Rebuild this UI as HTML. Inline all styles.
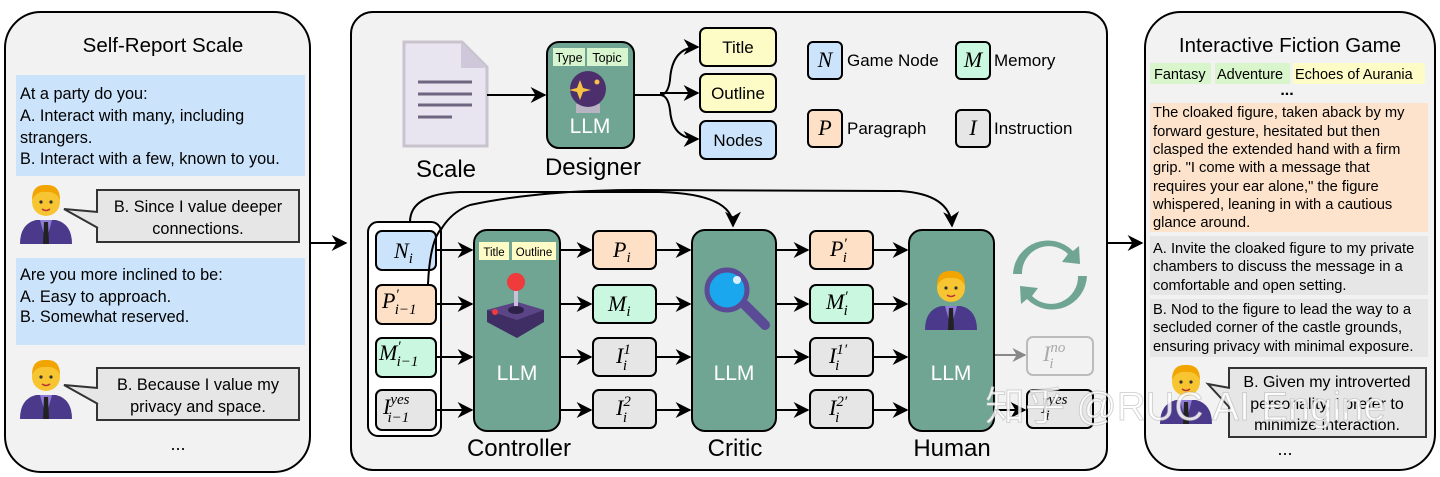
<!DOCTYPE html>
<html><head><meta charset="utf-8"><style>
html,body{margin:0;padding:0;background:#fff;}
svg{display:block;}
text{font-family:"Liberation Sans",sans-serif;}
.m{font-family:"Liberation Serif",serif;font-style:italic;}
</style></head><body>
<svg width="1440" height="477" viewBox="0 0 1440 477" xmlns="http://www.w3.org/2000/svg">
<defs>
<marker id="ahb" viewBox="0 0 10 10" refX="9" refY="5" markerWidth="16" markerHeight="16" orient="auto" markerUnits="userSpaceOnUse"><path d="M0,0 L10,5 L0,10 L3,5 z" fill="#000"/></marker>
<marker id="ahg" viewBox="0 0 10 10" refX="9" refY="5" markerWidth="14" markerHeight="14" orient="auto" markerUnits="userSpaceOnUse"><path d="M0,0 L10,5 L0,10 L3,5 z" fill="#888"/></marker>
<g id="person">
  <path d="M0,62 Q0,42 16,38 L36,38 Q52,42 52,62 Z" fill="#4b3a8c"/>
  <path d="M20,38 L26,60 L32,38 Z" fill="#8f7ad6"/>
  <path d="M24,40 L28,40 L29,62 L23,62 Z" fill="#222"/>
  <circle cx="26" cy="20" r="14" fill="#f7c531"/>
  <path d="M12,18 Q12,2 26,3 Q40,2 40,18 Q36,9 26,10 Q16,9 12,18 Z" fill="#f2a400"/>
  <circle cx="21" cy="20" r="1.6" fill="#333"/><circle cx="31" cy="20" r="1.6" fill="#333"/>
  <path d="M22,27 Q26,30 30,27" stroke="#b33" stroke-width="1.5" fill="none"/>
</g>
</defs>

<!-- LEFT PANEL -->
<rect x="5" y="12" width="305" height="460" rx="36" fill="#f2f2f2" stroke="#000" stroke-width="2"/>
<text x="163" y="52" font-size="20.5" text-anchor="middle">Self-Report Scale</text>
<rect x="16" y="75" width="289" height="101" fill="#cce4fb"/>
<g font-size="16.3">
<text x="20" y="99">At a party do you:</text>
<text x="20" y="121">A. Interact with many, including</text>
<text x="20" y="143">strangers.</text>
<text x="20" y="164">B. Interact with a few, known to you.</text>
</g>
<use href="#person" x="20" y="182"/>
<rect x="97" y="190" width="202" height="52" fill="#e6e6e6" stroke="#333" stroke-width="2"/>
<path d="M98,212 L64,209 L98,228" fill="#e6e6e6" stroke="#333" stroke-width="2"/>
<g font-size="16.3" text-anchor="middle"><text x="198" y="212">B. Since I value deeper</text><text x="198" y="234">connections.</text></g>
<rect x="16" y="258" width="289" height="87" fill="#cce4fb"/>
<g font-size="16.3">
<text x="20" y="280">Are you more inclined to be:</text>
<text x="20" y="302">A. Easy to approach.</text>
<text x="20" y="322">B. Somewhat reserved.</text>
</g>
<use href="#person" x="20" y="357"/>
<rect x="97" y="368" width="202" height="52" fill="#e6e6e6" stroke="#333" stroke-width="2"/>
<path d="M98,388 L64,385 L98,404" fill="#e6e6e6" stroke="#333" stroke-width="2"/>
<g font-size="16.3" text-anchor="middle"><text x="198" y="390">B. Because I value my</text><text x="198" y="412">privacy and space.</text></g>
<text x="178" y="450" font-size="18" text-anchor="middle">...</text>

<line x1="310" y1="243" x2="346" y2="243" stroke="#000" stroke-width="2" marker-end="url(#ahb)"/>

<!-- MIDDLE PANEL -->
<rect x="351" y="12" width="756" height="458" rx="22" fill="#f2f2f2" stroke="#000" stroke-width="2"/>
<path d="M404,42 L462,42 L487,67 L487,146 L404,146 Z" fill="#e8e4f0" stroke="#c8c3cf" stroke-width="3"/>
<path d="M461,42 L461,68 L487,68" fill="#cfc8da"/>
<g stroke="#6e6680" stroke-width="3"><line x1="418" y1="82" x2="472" y2="82"/><line x1="418" y1="94" x2="472" y2="94"/><line x1="418" y1="105" x2="472" y2="105"/><line x1="418" y1="117" x2="452" y2="117"/></g>
<text x="446" y="177" font-size="24" text-anchor="middle">Scale</text>
<line x1="487" y1="95" x2="545" y2="95" stroke="#000" stroke-width="2" marker-end="url(#ahb)"/>
<rect x="547" y="42" width="87" height="106" rx="12" fill="#6fa592" stroke="#000" stroke-width="2"/>
<rect x="553" y="48" width="32" height="18" fill="#d7f5cf"/><rect x="587" y="48" width="41" height="18" fill="#d7f5cf"/>
<text x="569" y="62" font-size="12.5" text-anchor="middle">Type</text><text x="607" y="62" font-size="12.5" text-anchor="middle">Topic</text>
<rect x="576" y="104" width="24" height="9" fill="#b9b4c4"/>
<circle cx="588" cy="89" r="18" fill="#4d2f6e"/>
<path d="M580,80 L583,88 L591,90 L583,92 L580,100 L577,92 L569,90 L577,88 Z" fill="#f6c343"/>
<circle cx="597" cy="82" r="2.5" fill="#f6c343"/>
<text x="590" y="133" font-size="21" fill="#fff" text-anchor="middle">LLM</text>
<text x="593" y="175" font-size="24" text-anchor="middle">Designer</text>
<g stroke="#000" stroke-width="2" fill="none">
<path d="M634,95 L660,95 Q668,95 670,80 Q672,47 698,47" marker-end="url(#ahb)"/>
<line x1="660" y1="93" x2="698" y2="93" marker-end="url(#ahb)"/>
<path d="M660,95 Q668,95 670,110 Q672,139 698,139" marker-end="url(#ahb)"/>
</g>
<g stroke="#000" stroke-width="2">
<rect x="700" y="28" width="76" height="38" rx="6" fill="#fdfbc6"/>
<rect x="700" y="74" width="76" height="38" rx="6" fill="#fdfbc6"/>
<rect x="700" y="121" width="76" height="38" rx="6" fill="#cce4fb"/>
</g>
<g font-size="17" text-anchor="middle"><text x="738" y="53">Title</text><text x="738" y="99">Outline</text><text x="738" y="146">Nodes</text></g>
<g stroke="#000" stroke-width="2">
<rect x="808" y="42" width="34" height="37" rx="5" fill="#cce4fb"/>
<rect x="956" y="42" width="34" height="37" rx="5" fill="#c9f7e0"/>
<rect x="808" y="110" width="34" height="37" rx="5" fill="#fde0c6"/>
<rect x="956" y="110" width="34" height="37" rx="5" fill="#e6e6e6"/>
</g>
<g font-size="22" text-anchor="middle"><text x="825" y="67" class="m">N</text><text x="973" y="67" class="m">M</text><text x="825" y="135" class="m">P</text><text x="973" y="135" class="m">I</text></g>
<g font-size="17"><text x="847" y="66">Game Node</text><text x="994" y="66">Memory</text><text x="847" y="134">Paragraph</text><text x="994" y="134">Instruction</text></g>

<g stroke="#000" stroke-width="2" fill="none">
<path d="M410,222 Q410,194 460,192 L660,192 Q733,194 733,226" marker-end="url(#ahb)"/>
<path d="M428,284 Q430,220 470,205 Q540,190 640,190 L900,191 Q950,194 952,226" marker-end="url(#ahb)"/>
</g>

<rect x="368" y="222" width="73" height="214" rx="10" fill="#fff" stroke="#000" stroke-width="2"/>
<g stroke="#000" stroke-width="2">
<rect x="376" y="231" width="60" height="39" rx="6" fill="#cce4fb"/>
<rect x="376" y="285" width="60" height="39" rx="6" fill="#fde0c6"/>
<rect x="376" y="338" width="60" height="39" rx="6" fill="#c9f7e0"/>
<rect x="376" y="390" width="60" height="40" rx="6" fill="#e6e6e6"/>
</g>
<path d="M428,284 Q430,240 442,228" stroke="#000" stroke-width="2" fill="none"/>
<g font-size="22">
<text x="394" y="258" class="m">N<tspan font-size="15" dy="5">i</tspan></text>
<text x="382" y="308" class="m">P<tspan font-size="15" dy="-9">′</tspan><tspan font-size="15" dx="-4" dy="15">i−1</tspan></text>
<text x="379" y="360" class="m">M<tspan font-size="15" dy="-9">′</tspan><tspan font-size="15" dx="-4" dy="15">i−1</tspan></text>
<text x="383" y="414" class="m">I<tspan font-size="15" dy="-10">yes</tspan><tspan font-size="15" dx="-22" dy="18">i−1</tspan></text>
</g>
<g stroke="#000" stroke-width="2" marker-end="url(#ahb)">
<line x1="436" y1="250" x2="472" y2="250"/><line x1="436" y1="304" x2="472" y2="304"/><line x1="436" y1="357" x2="472" y2="357"/><line x1="436" y1="410" x2="472" y2="410"/>
<line x1="560" y1="250" x2="591" y2="250"/><line x1="560" y1="304" x2="591" y2="304"/><line x1="560" y1="357" x2="591" y2="357"/><line x1="560" y1="410" x2="591" y2="410"/>
<line x1="656" y1="250" x2="690" y2="250"/><line x1="656" y1="304" x2="690" y2="304"/><line x1="656" y1="357" x2="690" y2="357"/><line x1="656" y1="410" x2="690" y2="410"/>
<line x1="776" y1="250" x2="808" y2="250"/><line x1="776" y1="304" x2="808" y2="304"/><line x1="776" y1="357" x2="808" y2="357"/><line x1="776" y1="410" x2="808" y2="410"/>
<line x1="873" y1="250" x2="907" y2="250"/><line x1="873" y1="304" x2="907" y2="304"/><line x1="873" y1="357" x2="907" y2="357"/><line x1="873" y1="410" x2="907" y2="410"/>
<line x1="994" y1="410" x2="1025" y2="410"/>
</g>
<line x1="994" y1="355" x2="1025" y2="355" stroke="#888" stroke-width="2" marker-end="url(#ahg)"/>
<rect x="474" y="230" width="86" height="201" rx="13" fill="#6fa592" stroke="#000" stroke-width="2"/>
<rect x="479" y="242" width="30" height="18" fill="#fdfbc6"/><rect x="512" y="242" width="44" height="18" fill="#fdfbc6"/>
<text x="494" y="256" font-size="11.5" text-anchor="middle">Title</text><text x="534" y="256" font-size="11.5" text-anchor="middle">Outline</text>
<path d="M487,310 L517,302 L544,310 L544,322 L517,338 L487,322 Z" fill="#3f2e63"/>
<path d="M487,310 L517,302 L544,310 L517,320 Z" fill="#5b4587"/>
<rect x="514" y="290" width="4" height="18" fill="#c9c0dc"/>
<circle cx="516" cy="282" r="9" fill="#ef3b3b"/>
<ellipse cx="516" cy="310" rx="8" ry="4" fill="#2e2148"/>
<circle cx="495" cy="312" r="3" fill="#ef3b3b"/>
<text x="517" y="380" font-size="21" fill="#fff" text-anchor="middle">LLM</text>
<text x="519" y="456" font-size="24" text-anchor="middle">Controller</text>
<g stroke="#000" stroke-width="2">
<rect x="593" y="231" width="63" height="38" rx="6" fill="#fde0c6"/>
<rect x="593" y="285" width="63" height="38" rx="6" fill="#c9f7e0"/>
<rect x="593" y="338" width="63" height="38" rx="6" fill="#e6e6e6"/>
<rect x="593" y="390" width="63" height="38" rx="6" fill="#e6e6e6"/>
</g>
<g font-size="22">
<text x="613" y="257" class="m">P<tspan font-size="15" dy="5">i</tspan></text>
<text x="608" y="311" class="m">M<tspan font-size="15" dy="5">i</tspan></text>
<text x="616" y="363" class="m">I<tspan font-size="15" dy="-9">1</tspan><tspan font-size="15" dx="-8" dy="16">i</tspan></text>
<text x="616" y="415" class="m">I<tspan font-size="15" dy="-9">2</tspan><tspan font-size="15" dx="-8" dy="16">i</tspan></text>
</g>
<rect x="692" y="230" width="84" height="201" rx="13" fill="#6fa592" stroke="#000" stroke-width="2"/>
<line x1="745" y1="305" x2="765" y2="325" stroke="#5b4a96" stroke-width="10" stroke-linecap="round"/>
<circle cx="727" cy="290" r="20" fill="#1aa7ee" stroke="#5b4a96" stroke-width="5"/>
<circle cx="737" cy="280" r="4" fill="#d8f1ff"/>
<text x="734" y="380" font-size="21" fill="#fff" text-anchor="middle">LLM</text>
<text x="735" y="456" font-size="24" text-anchor="middle">Critic</text>
<g stroke="#000" stroke-width="2">
<rect x="810" y="231" width="63" height="38" rx="6" fill="#fde0c6"/>
<rect x="810" y="285" width="63" height="38" rx="6" fill="#c9f7e0"/>
<rect x="810" y="338" width="63" height="38" rx="6" fill="#e6e6e6"/>
<rect x="810" y="390" width="63" height="38" rx="6" fill="#e6e6e6"/>
</g>
<g font-size="22">
<text x="830" y="256" class="m">P<tspan font-size="15" dy="-8">′</tspan><tspan font-size="15" dx="-4" dy="14">i</tspan></text>
<text x="826" y="309" class="m">M<tspan font-size="15" dy="-8">′</tspan><tspan font-size="15" dx="-4" dy="14">i</tspan></text>
<text x="829" y="363" class="m">I<tspan font-size="15" dy="-9">1′</tspan><tspan font-size="15" dx="-12" dy="16">i</tspan></text>
<text x="829" y="415" class="m">I<tspan font-size="15" dy="-9">2′</tspan><tspan font-size="15" dx="-12" dy="16">i</tspan></text>
</g>
<rect x="909" y="230" width="85" height="201" rx="13" fill="#6fa592" stroke="#000" stroke-width="2"/>
<use href="#person" x="925" y="268"/>
<text x="951" y="380" font-size="21" fill="#fff" text-anchor="middle">LLM</text>
<text x="952" y="456" font-size="24" text-anchor="middle">Human</text>
<rect x="1027" y="337" width="66" height="38" rx="6" fill="#f2f2f2" stroke="#bbb" stroke-width="2"/>
<text x="1043" y="361" font-size="22" class="m" fill="#aaa">I<tspan font-size="15" dy="-9">no</tspan><tspan font-size="15" dx="-16" dy="16">i</tspan></text>
<rect x="1027" y="390" width="66" height="38" rx="6" fill="#e6e6e6" stroke="#000" stroke-width="2"/>
<text x="1041" y="413" font-size="22" class="m">I<tspan font-size="15" dy="-9">yes</tspan><tspan font-size="15" dx="-22" dy="16">i</tspan></text>
<g fill="#6fa592">
<path d="M1022,274 A27,27 0 0 1 1068,254 L1062,262 L1080,264 L1079,246 L1073,251 A35,35 0 0 0 1013,274 Z"/>
<path d="M1078,276 A27,27 0 0 1 1032,296 L1038,288 L1020,286 L1021,304 L1027,299 A35,35 0 0 0 1087,276 Z"/>
</g>

<line x1="1107" y1="243" x2="1142" y2="243" stroke="#000" stroke-width="2" marker-end="url(#ahb)"/>

<rect x="1145" y="12" width="290" height="458" rx="36" fill="#f2f2f2" stroke="#000" stroke-width="2"/>
<text x="1290" y="52" font-size="20.5" text-anchor="middle">Interactive Fiction Game</text>
<rect x="1150" y="63" width="61" height="21" fill="#d9f5cc"/>
<rect x="1215" y="63" width="75" height="21" fill="#d9f5cc"/>
<rect x="1293" y="63" width="132" height="21" fill="#fdfbc6"/>
<g font-size="14.5"><text x="1154" y="79">Fantasy</text><text x="1217" y="79">Adventure</text><text x="1295" y="79">Echoes of Aurania</text></g>
<text x="1287" y="95" font-size="16" text-anchor="middle" font-weight="bold">...</text>
<rect x="1150" y="103" width="278" height="129" fill="#fde3cc"/>
<g font-size="14.7">
<text x="1153" y="117">The cloaked figure, taken aback by my</text>
<text x="1153" y="136">forward gesture, hesitated but then</text>
<text x="1153" y="154">clasped the extended hand with a firm</text>
<text x="1153" y="172">grip. "I come with a message that</text>
<text x="1153" y="191">requires your ear alone," the figure</text>
<text x="1153" y="209">whispered, leaning in with a cautious</text>
<text x="1153" y="227">glance around.</text>
</g>
<rect x="1150" y="236" width="278" height="59" fill="#e6e6e6"/>
<rect x="1150" y="299" width="278" height="58" fill="#e6e6e6"/>
<g font-size="14.7">
<text x="1153" y="253">A. Invite the cloaked figure to my private</text>
<text x="1153" y="271">chambers to discuss the message in a</text>
<text x="1153" y="290">comfortable and open setting.</text>
<text x="1153" y="314">B. Nod to the figure to lead the way to a</text>
<text x="1153" y="332">secluded corner of the castle grounds,</text>
<text x="1153" y="351">ensuring privacy with minimal exposure.</text>
</g>
<use href="#person" x="1160" y="362"/>
<rect x="1229" y="368" width="197" height="69" fill="#e6e6e6" stroke="#333" stroke-width="2"/>
<path d="M1230,388 L1208,384 L1230,408" fill="#e6e6e6" stroke="#333" stroke-width="2"/>
<g font-size="16" text-anchor="middle"><text x="1327" y="387">B. Given my introverted</text><text x="1327" y="409">personality, I prefer to</text><text x="1327" y="430">minimize interaction.</text></g>
<text x="1285" y="455" font-size="18" text-anchor="middle">...</text>

<text x="985" y="420" font-size="40" fill="#fff" fill-opacity="0.85" stroke="#999" stroke-opacity="0.4" stroke-width="1" font-family="'Liberation Sans','Noto Sans CJK SC',sans-serif">知乎 @RUC AI Engine</text>
</svg>
</body></html>
